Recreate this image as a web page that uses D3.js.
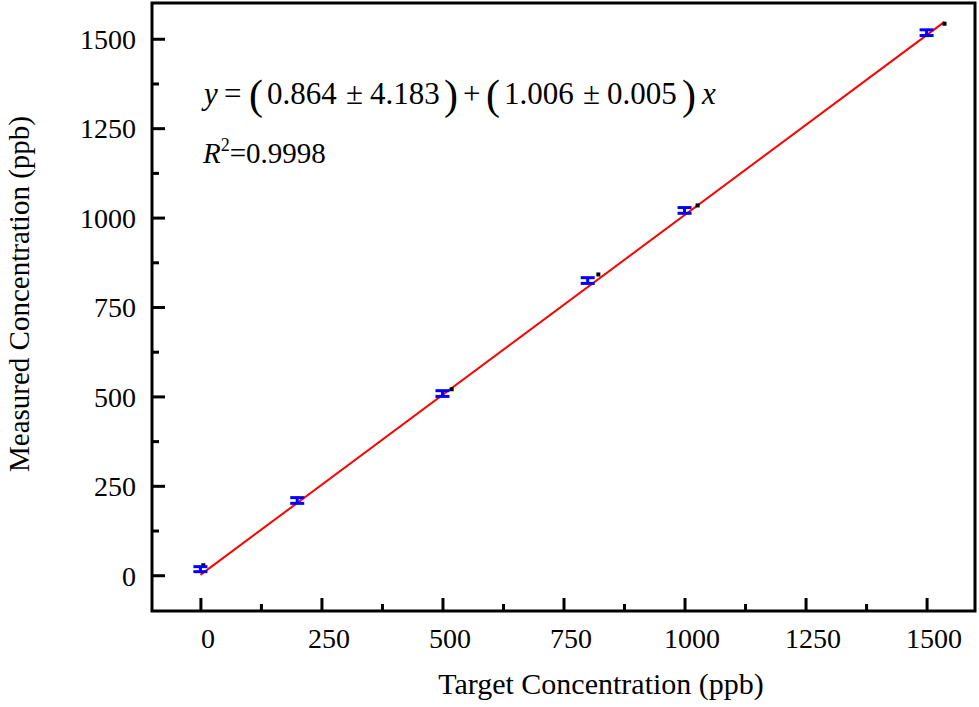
<!DOCTYPE html>
<html>
<head>
<meta charset="utf-8">
<script src="https://cdn.jsdelivr.net/npm/d3@7"></script>
<style>
  html, body { margin: 0; padding: 0; background: #fff; }
  svg { display: block; }
  svg text { font-family: "Liberation Serif", "Times New Roman", serif; }
</style>
</head>
<body>
<svg id="chart" width="979" height="707"></svg>
<script>
// ---- data ----
const targetX = [0, 200, 500, 800, 1000, 1500];
const measuredY = [17, 209, 508, 824, 1020, 1517];
const measuredErr = [7, 8, 8, 8, 8, 8];
const fitPointX = [6, 519, 822, 1027, 1537];
const fitPointY = [28, 520, 841, 1034, 1542];
const fitIntercept = 0.864;
const fitSlope = 1.006;
const fitRangeX = [0, 1537];
const xTicks = [0, 250, 500, 750, 1000, 1250, 1500];
const yTicks = [0, 250, 500, 750, 1000, 1250, 1500];
const xMinor = [125, 375, 625, 875, 1125, 1375];
const yMinor = [125, 375, 625, 875, 1125, 1375];
const xTitle = "Target Concentration (ppb)";
const yTitle = "Measured Concentration (ppb)";

const SERIF = "Liberation Serif, Times New Roman, serif";

// ---- layout ----
const svg = d3.select("#chart");
const L = 152, R = 975, T = 3, B = 611;
const x = d3.scaleLinear().domain([-100, 1600]).range([L, R]);
const y = d3.scaleLinear().domain([-100, 1600]).range([B, T]);

// frame
svg.append("rect").attr("x", L).attr("y", T).attr("width", R - L).attr("height", B - T)
  .attr("fill", "none").attr("stroke", "#000").attr("stroke-width", 3);

// axes (ticks inward)
const xAxis = d3.axisBottom(x).tickValues(xTicks).tickSize(-13).tickPadding(0).tickFormat(d3.format("d"));
const gx = svg.append("g").attr("transform", `translate(0,${B})`).call(xAxis);
gx.select(".domain").remove();
gx.selectAll(".tick line").attr("stroke", "#000").attr("stroke-width", 3);
gx.selectAll(".tick text").attr("font-size", 28).attr("fill", "#000")
  .attr("font-family", SERIF)
  .attr("dx", 7).attr("dy", 0).attr("y", 37);

const xAxisMinor = d3.axisBottom(x).tickValues(xMinor).tickSize(-7).tickFormat("");
const gxm = svg.append("g").attr("transform", `translate(0,${B})`).call(xAxisMinor);
gxm.select(".domain").remove();
gxm.selectAll(".tick line").attr("stroke", "#000").attr("stroke-width", 3);

const yAxis = d3.axisLeft(y).tickValues(yTicks).tickSize(-13).tickPadding(0).tickFormat(d3.format("d"));
const gy = svg.append("g").attr("transform", `translate(${L},0)`).call(yAxis);
gy.select(".domain").remove();
gy.selectAll(".tick line").attr("stroke", "#000").attr("stroke-width", 3);
gy.selectAll(".tick text").attr("font-size", 28).attr("fill", "#000")
  .attr("font-family", SERIF)
  .attr("x", -16).attr("dy", "0.35em");

const yAxisMinor = d3.axisLeft(y).tickValues(yMinor).tickSize(-7).tickFormat("");
const gym = svg.append("g").attr("transform", `translate(${L},0)`).call(yAxisMinor);
gym.select(".domain").remove();
gym.selectAll(".tick line").attr("stroke", "#000").attr("stroke-width", 3);

// axis titles
svg.append("text").attr("x", 601).attr("y", 694).attr("text-anchor", "middle")
  .attr("font-family", SERIF).attr("font-size", 30).attr("fill", "#000").text(xTitle);
svg.append("text").attr("transform", `translate(29,294) rotate(-90)`)
  .attr("font-family", SERIF).attr("text-anchor", "middle").attr("font-size", 29).attr("fill", "#000").text(yTitle);

// fit line
const fitData = fitRangeX.map(v => ({ x: v, y: fitIntercept + fitSlope * v }));
svg.append("path").datum(fitData)
  .attr("d", d3.line().x(d => x(d.x)).y(d => y(d.y)))
  .attr("stroke", "#ff0000").attr("stroke-width", 2).attr("fill", "none");

// small black fit markers
svg.append("g").selectAll("rect").data(fitPointX.map((v, i) => ({ x: v, y: fitPointY[i] })))
  .join("rect")
  .attr("x", d => x(d.x) - 2).attr("y", d => y(d.y) - 2)
  .attr("width", 4).attr("height", 4).attr("fill", "#000");

// error bars
const pts = targetX.map((v, i) => ({ x: v, y: measuredY[i], e: measuredErr[i] }));
const eb = svg.append("g").attr("stroke", "#0000ff").attr("stroke-width", 3);
eb.selectAll("line.v").data(pts).join("line").attr("class", "v")
  .attr("x1", d => x(d.x)).attr("x2", d => x(d.x))
  .attr("y1", d => y(d.y - d.e)).attr("y2", d => y(d.y + d.e));
eb.selectAll("line.t").data(pts).join("line").attr("class", "t")
  .attr("x1", d => x(d.x) - 7).attr("x2", d => x(d.x) + 7)
  .attr("y1", d => y(d.y + d.e)).attr("y2", d => y(d.y + d.e));
eb.selectAll("line.b").data(pts).join("line").attr("class", "b")
  .attr("x1", d => x(d.x) - 7).attr("x2", d => x(d.x) + 7)
  .attr("y1", d => y(d.y - d.e)).attr("y2", d => y(d.y - d.e));

// equation
const eq = svg.append("g").attr("fill", "#000");
const base = 104;
const parts = [
  { t: "y", x: 204, it: true },
  { t: "=", x: 224 },
  { t: "(", x: 249, big: true },
  { t: "0.864", x: 267 },
  { t: "±", x: 346 },
  { t: "4.183", x: 370 },
  { t: ")", x: 444, big: true },
  { t: "+", x: 463 },
  { t: "(", x: 486, big: true },
  { t: "1.006", x: 504 },
  { t: "±", x: 583 },
  { t: "0.005", x: 607 },
  { t: ")", x: 682, big: true },
  { t: "x", x: 702, it: true }
];
parts.forEach(p => {
  eq.append("text").attr("x", p.x).attr("y", p.big ? base + 5 : base)
    .attr("font-family", SERIF)
    .attr("font-size", p.big ? 42 : 31)
    .attr("font-style", p.it ? "italic" : "normal")
    .text(p.t);
});
const r2 = svg.append("text").attr("x", 203).attr("y", 163).attr("font-size", 29)
  .attr("font-family", SERIF).attr("fill", "#000");
r2.append("tspan").attr("font-style", "italic").text("R");
r2.append("tspan").attr("font-size", 18).attr("dy", -12).text("2");
r2.append("tspan").attr("dy", 12).text("=0.9998");
</script>
</body>
</html>
